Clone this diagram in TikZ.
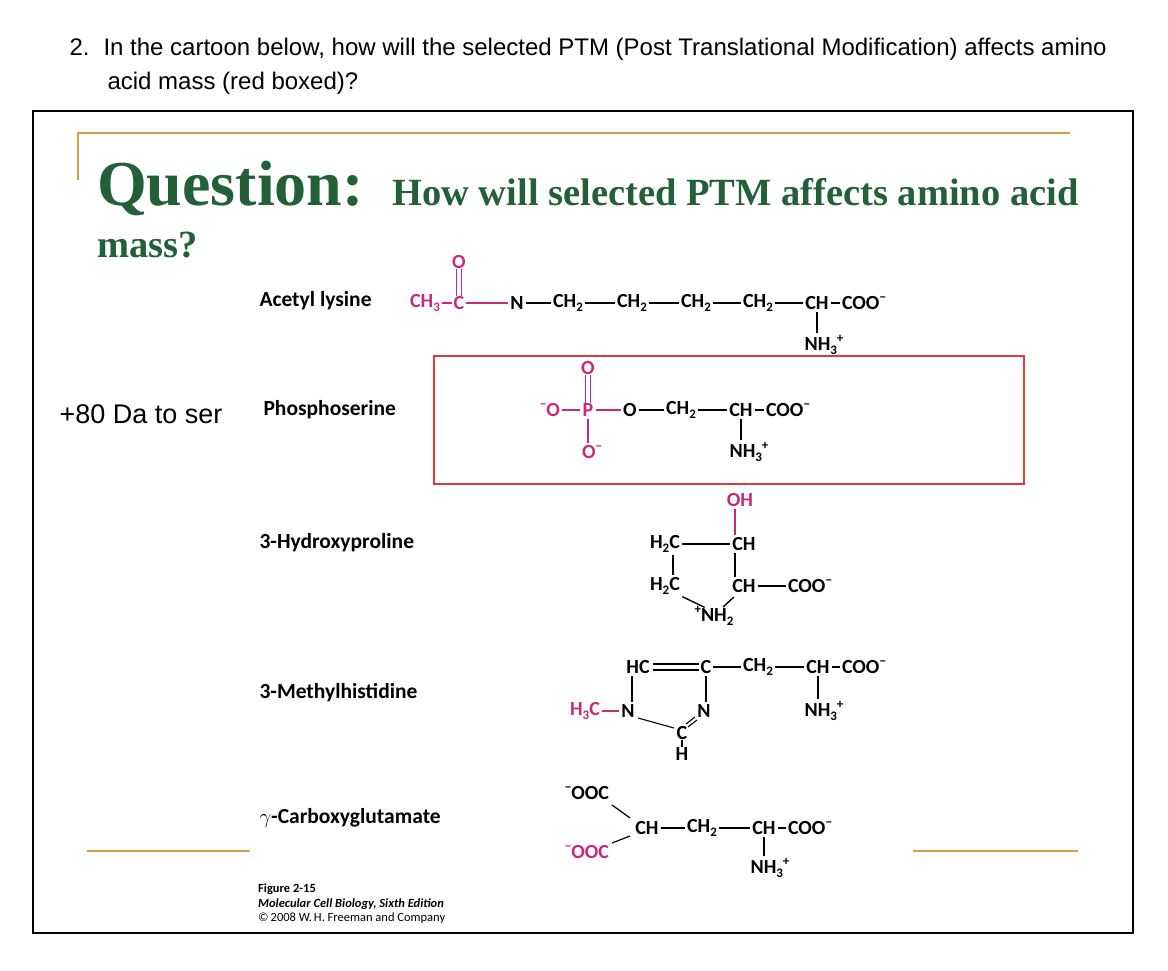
\documentclass[tikz,border=0pt]{standalone}
\usepackage{fontspec}
\setmainfont{Liberation Serif}
\newfontfamily\chem{Carlito}
\newfontfamily\hdr{Liberation Sans}
\definecolor{pinkc}{RGB}{204,40,120}
\definecolor{qgreen}{RGB}{35,95,55}
\definecolor{gold}{RGB}{205,165,60}
\definecolor{redbox}{RGB}{220,60,60}
\newcommand\sbs[1]{\raisebox{-.5ex}{\fontsize{13}{13}\selectfont #1}}
\newcommand\sps[1]{\raisebox{.8ex}{\fontsize{13}{13}\selectfont #1}}
\begin{document}
\begin{tikzpicture}[x=1pt,y=-1pt,
  atm/.style={inner sep=0.5pt,font=\chem\bfseries\fontsize{20}{20}\selectfont},
  pat/.style={atm,text=pinkc},
  bd/.style={line width=1.4pt,shorten <=1.5pt,shorten >=1.5pt},
  pbd/.style={bd,draw=pinkc},
  lab/.style={anchor=west,font=\chem\bfseries\fontsize{21.5}{21}\selectfont}]
\useasboundingbox (0,0) rectangle (1168,970);
% header
\node[anchor=west,font=\hdr\fontsize{24}{24}\selectfont] (h1) at (66,49) {2.\hspace{14pt}In the cartoon below, how will the selected PTM (Post Translational Modification) affects amino};
\node[anchor=west,font=\hdr\fontsize{24}{24}\selectfont] (h2) at (104,83) {acid mass (red boxed)?};
\draw[line width=2pt] (33,111) rectangle (1133,933);
% gold lines
\draw[gold,line width=1.5pt] (78,180) -- (78,133) -- (1070,133);
\draw[gold,line width=1.5pt] (87,851) -- (250,851);
\draw[gold,line width=1.5pt] (913,851) -- (1078,851);
% title
\node[anchor=base west,inner sep=0,text=qgreen,font=\bfseries\fontsize{64}{64}\selectfont] (q) at (97,205) {Question:};
\node[anchor=base west,inner sep=0,text=qgreen,font=\bfseries\fontsize{38.5}{38}\selectfont] (q2) at (392,205) {How will selected PTM affects amino acid};
\node[anchor=base west,inner sep=0,text=qgreen,font=\bfseries\fontsize{38.5}{38}\selectfont] (q3) at (97,257) {mass?};
% labels
\node[lab] (l1) at (256,301) {Acetyl lysine};
\node[lab] (l2) at (260,410) {Phosphoserine};
\node[lab] (l3) at (256,543) {3-Hydroxyproline};
\node[lab] (l4) at (256,693) {3-Methylhistidine};
\node[lab] (l5) at (256,818) {$\gamma$-Carboxyglutamate};
\node[anchor=west,font=\hdr\fontsize{27}{27}\selectfont] (da) at (56,414) {+80 Da to ser};
\node[anchor=north west,align=left,inner sep=0,font=\chem\fontsize{12.5}{14.5}\selectfont] (fig) at (258,884) {\textbf{Figure 2-15}\\\textbf{\itshape Molecular Cell Biology, Sixth Edition}\\\textcopyright\,2008 W.\,H. Freeman and Company};
% red box
\draw[redbox,line width=1.2pt] (434,356) rectangle (1024,484);
% acetyl lysine
\node[pat] (a1) at (425,303) {CH\sbs3};
\node[pat] (a2) at (459,303) {C};
\node[pat] (ao) at (459,262) {O};
\node[atm] (a3) at (517,303) {N};
\node[atm] (a4) at (568,303) {CH\sbs2};
\node[atm] (a5) at (632,303) {CH\sbs2};
\node[atm] (a6) at (696,303) {CH\sbs2};
\node[atm] (a7) at (758,303) {CH\sbs2};
\node[atm] (a8) at (817,303) {CH};
\node[atm] (a9) at (864,303) {COO\sps{\textminus}};
\node[atm] (an) at (824,345) {NH\sbs3\sps{+}};
\draw[pbd] (a1) -- (a2); \draw[pbd] (a2) -- (a3);
\draw[pinkc,line width=1.4pt] ([xshift=-2.5pt]ao.south) -- ([xshift=-2.5pt]a2.north) ([xshift=2.5pt]ao.south) -- ([xshift=2.5pt]a2.north);
\draw[bd] (a3) -- (a4); \draw[bd] (a4) -- (a5); \draw[bd] (a5) -- (a6); \draw[bd] (a6) -- (a7); \draw[bd] (a7) -- (a8); \draw[bd] (a8) -- (a9);
\draw[bd] (a8.south) -- (an.north -| a8.south);
% phosphoserine
\node[pat] (p1) at (550,410) {\sps{\textminus}O};
\node[pat] (p2) at (588,410) {P};
\node[pat] (pt) at (588,368) {O};
\node[pat] (pb) at (592,452) {O\sps{\textminus}};
\node[atm] (p3) at (630,410) {O};
\node[atm] (p4) at (681,410) {CH\sbs2};
\node[atm] (p5) at (741,410) {CH};
\node[atm] (p6) at (788,410) {COO\sps{\textminus}};
\node[atm] (pn) at (749,452) {NH\sbs3\sps{+}};
\draw[pbd] (p1) -- (p2); \draw[pbd] (p2) -- (p3);
\draw[pinkc,line width=1.4pt] ([xshift=-2.5pt]pt.south) -- ([xshift=-2.5pt]p2.north) ([xshift=2.5pt]pt.south) -- ([xshift=2.5pt]p2.north);
\draw[pbd] (p2.south) -- (pb.north -| p2.south);
\draw[bd] (p3) -- (p4); \draw[bd] (p4) -- (p5); \draw[bd] (p5) -- (p6);
\draw[bd] (p5.south) -- (pn.north -| p5.south);
% hydroxyproline
\node[pat] (r0) at (740,500) {OH};
\node[atm] (r1) at (744,544) {CH};
\node[atm] (r2) at (665,544) {H\sbs2C};
\node[atm] (r3) at (665,586) {H\sbs2C};
\node[atm] (r4) at (744,586) {CH};
\node[atm] (r5) at (810,586) {COO\sps{\textminus}};
\node[atm] (r6) at (714,616) {\sps{+}NH\sbs2};
\draw[pbd] (r0.south -| 735,0) -- (r1.north -| 735,0);
\draw[bd] (r2) -- (r1);
\draw[bd] (r2.south -| 673,0) -- (r3.north -| 673,0);
\draw[bd] (r1.south -| 735,0) -- (r4.north -| 735,0);
\draw[bd] (r4) -- (r5);
\draw[bd] (681,596) -- (706,608);
\draw[bd] (735,596) -- (722,608);
% methylhistidine
\node[atm] (m1) at (638,667) {HC};
\node[atm] (m2) at (706,667) {C};
\node[atm] (m3) at (758,667) {CH\sbs2};
\node[atm] (m4) at (818,667) {CH};
\node[atm] (m5) at (864,667) {COO\sps{\textminus}};
\node[atm] (mn) at (824,711) {NH\sbs3\sps{+}};
\node[pat] (mh) at (585,711) {H\sbs3C};
\node[atm] (mN1) at (628,711) {N};
\node[atm] (mN2) at (704,711) {N};
\node[atm] (mc) at (682,733) {C};
\node[atm] (mH) at (682,754) {H};
\draw[line width=1.4pt] (653,664) -- (699,664) (653,670) -- (699,670);
\draw[bd] (m2) -- (m3); \draw[bd] (m3) -- (m4); \draw[bd] (m4) -- (m5);
\draw[bd] (m4.south) -- (mn.north -| m4.south);
\draw[bd] (m1.south -| 632,0) -- (mN1.north -| 632,0);
\draw[bd] (m2.south) -- (mN2.north -| m2.south);
\draw[pbd] (mh) -- (mN1);
\draw[line width=1.1pt] (638,718) -- (674,728);
\draw[line width=1.1pt] (688,727) -- (697,720) (686,724) -- (695,717);
\draw[line width=1.2pt] (mc.south) -- (mH.north);
% gamma-carboxyglutamate
\node[atm] (g1) at (587,793) {\sps{\textminus}OOC};
\node[pat] (g2) at (587,852) {\sps{\textminus}OOC};
\node[atm] (g3) at (647,828) {CH};
\node[atm] (g4) at (702,828) {CH\sbs2};
\node[atm] (g5) at (764,828) {CH};
\node[atm] (g6) at (810,828) {COO\sps{\textminus}};
\node[atm] (gn) at (770,868) {NH\sbs3\sps{+}};
\draw[line width=1.2pt] (612,805) -- (630,818);
\draw[line width=1.2pt] (612,843) -- (630,836);
\draw[bd] (g3) -- (g4); \draw[bd] (g4) -- (g5); \draw[bd] (g5) -- (g6);
\draw[bd] (g5.south) -- (gn.north -| g5.south);
\end{tikzpicture}
\end{document}
